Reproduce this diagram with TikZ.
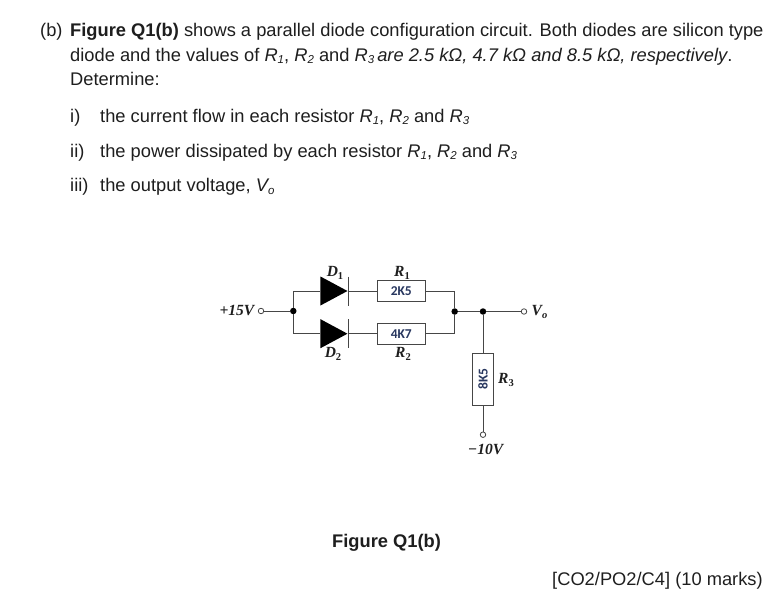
\documentclass[tikz,border=0pt]{standalone}
\usepackage{fontspec}
\setmainfont{Liberation Sans}
\newfontfamily\labelfont{Liberation Serif}
\newfontfamily\valuefont{Carlito}
\usetikzlibrary{shapes.geometric}
\definecolor{inktext}{RGB}{30,30,30}
\definecolor{wirecol}{RGB}{70,70,70}
\definecolor{valuecol}{RGB}{40,55,95}
\newcommand{\lowsub}[2]{\raisebox{-2.5pt}{\fontsize{#1}{#1}\selectfont #2}}
\newcommand{\Rsub}[1]{\textit{R\lowsub{11.5}{#1}}}
\tikzset{
 line/.style={anchor=base west,inner sep=0pt,text=inktext,font=\fontsize{18.3}{20}\selectfont},
 wire/.style={draw=wirecol,line width=0.9pt},
 diode/.style={isosceles triangle,isosceles triangle stretches,shape border rotate=0,draw=none,fill=black,inner sep=0pt,minimum height=27pt,minimum width=29pt,anchor=apex},
 resbox/.style={draw=wirecol,line width=0.9pt,fill=white,inner sep=0pt,font=\valuefont\bfseries\fontsize{13.5}{14}\selectfont,text=valuecol},
 dot/.style={circle,fill=black,inner sep=0pt,minimum size=6.5pt},
 term/.style={circle,draw=wirecol,line width=0.8pt,fill=white,inner sep=0pt,minimum size=5.5pt},
 lab/.style={inner sep=0pt,text=inktext,font=\labelfont\bfseries\itshape\fontsize{15.5}{16}\selectfont},
}
\begin{document}
\begin{tikzpicture}[x=1pt,y=-1pt]
\useasboundingbox (0,0) rectangle (772,607);

% question text
\node[line] (partb) at (40,36.7) {(b)};
\node[line] (l1) at (70,36.7) {\textbf{Figure Q1(b)} shows a parallel diode configuration circuit. Both diodes are silicon type};
\node[line] (l2) at (70,61.5) {diode and the values of \Rsub{1}, \Rsub{2} and \Rsub{3}\,\textit{are 2.5 kΩ, 4.7 kΩ and 8.5 kΩ, respectively}.};
\node[line] (l3) at (70,86) {Determine:};
\node[line] (ia) at (70,122.5) {i)};
\node[line] (ib) at (100,122.5) {the current flow in each resistor \Rsub{1}, \Rsub{2} and \Rsub{3}};
\node[line] (iia) at (70,157.5) {ii)};
\node[line] (iib) at (100,157.5) {the power dissipated by each resistor \Rsub{1}, \Rsub{2} and \Rsub{3}};
\node[line] (iiia) at (70,191.7) {iii)};
\node[line] (iiib) at (100,191.7) {the output voltage, \textit{V\lowsub{11.5}{o}}};
\node[line] (cap) at (332,547) {\textbf{Figure Q1(b)}};
\node[line] (marks) at (552,585) {[CO2/PO2/C4] (10 marks)};

% circuit
\node[term] (vin) at (261,311) {};
\node[dot] (j1) at (293.3,311) {};
\node[diode] (d1) at (348,291) {};
\node[diode] (d2) at (348,333.7) {};
\node[resbox,minimum width=48.7pt,minimum height=20.5pt] (r1) at (401.3,291) {2K5};
\node[resbox,minimum width=48.7pt,minimum height=20.5pt] (r2) at (401.3,333.7) {4K7};
\node[dot] (j2) at (454.7,311.5) {};
\node[dot] (j3) at (483,311.5) {};
\node[term] (vout) at (524,311.5) {};
\node[resbox,minimum width=20.3pt,minimum height=52pt] (r3) at (483,379) {\rotatebox{90}{8K5}};
\node[term] (vneg) at (483,434.7) {};

\draw[wire] (vin) -- (j1);
\draw[wire] (j1) |- (d1.west);
\draw[wire] (j1) |- (d2.west);
\foreach \d/\r in {d1/r1,d2/r2}
	{\draw[wire] (\d.apex) -- (\r.west);
	\draw[wire] ([yshift=14.5pt]\d.apex) -- ([yshift=-14.5pt]\d.apex);
	\draw[wire] (\r.east) -| (j2);}
\draw[wire] (j2) -- (j3);
\draw[wire] (j3) -- (vout);
\draw[wire] (j3) -- (r3.north);
\draw[wire] (r3.south) -- (vneg);

% labels
\node[lab] (ld1) at (335,273) {\textit{D}\lowsub{10.5}{\upshape 1}};
\node[lab] (ld2) at (333,354) {\textit{D}\lowsub{10.5}{\upshape 2}};
\node[lab] (lr1) at (402,273) {\textit{R}\lowsub{10.5}{\upshape 1}};
\node[lab] (lr2) at (403,354) {\textit{R}\lowsub{10.5}{\upshape 2}};
\node[lab] (lr3) at (506,380) {\textit{R}\lowsub{10.5}{\upshape 3}};
\node[lab,anchor=east] (lin) at (254.5,311) {+15\textit{V}};
\node[lab] (lout) at (539.5,312) {\textit{V}\lowsub{10.5}{\textit{o}}};
\node[lab] (lneg) at (485.5,449) {−10\textit{V}};
\end{tikzpicture}
\end{document}
